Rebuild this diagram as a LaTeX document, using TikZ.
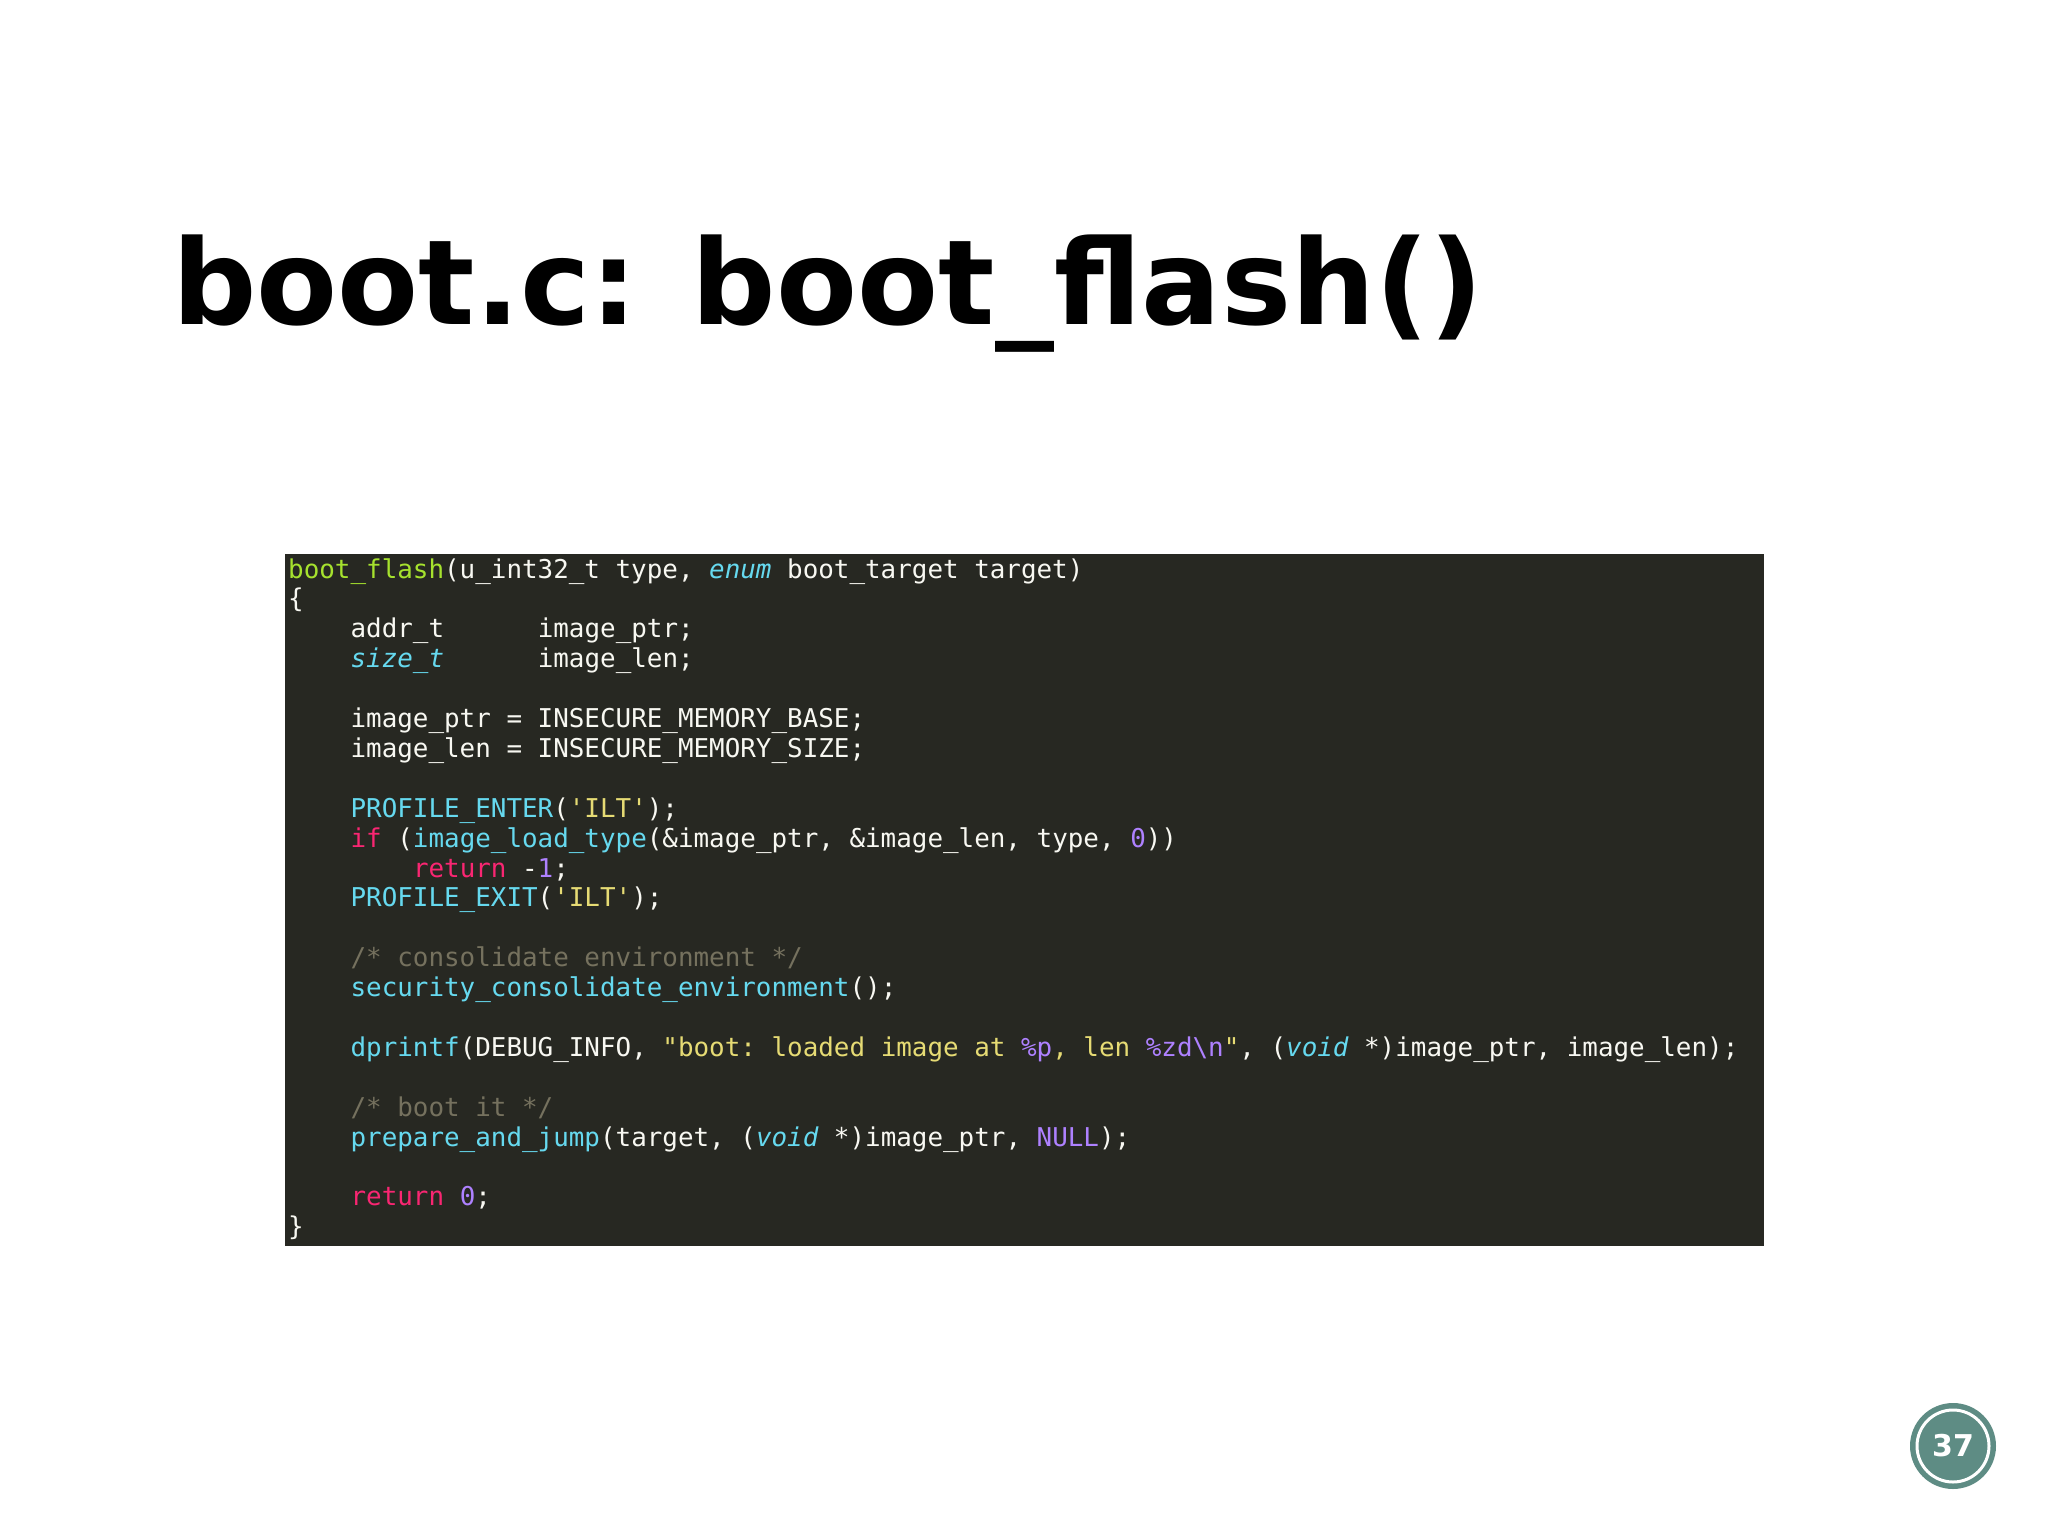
\documentclass[tikz,border=0pt]{standalone}
\usepackage{fontspec}
\setmainfont{DejaVu Sans}
\setmonofont{DejaVu Sans Mono}
\definecolor{cbg}{HTML}{272822}
\definecolor{cfg}{HTML}{F8F8F2}
\definecolor{cgr}{HTML}{A6E22E}
\definecolor{cbl}{HTML}{66D9EF}
\definecolor{cpk}{HTML}{F92672}
\definecolor{cpu}{HTML}{AE81FF}
\definecolor{cye}{HTML}{E6DB74}
\definecolor{ccm}{HTML}{75715E}
\definecolor{cbadge}{HTML}{5E8C84}
\newcommand\cG[1]{\textcolor{cgr}{#1}}
\newcommand\cB[1]{\textcolor{cbl}{#1}}
\newcommand\cT[1]{\textcolor{cbl}{\itshape #1}}
\newcommand\cP[1]{\textcolor{cpk}{#1}}
\newcommand\cU[1]{\textcolor{cpu}{#1}}
\newcommand\cY[1]{\textcolor{cye}{#1}}
\newcommand\cC[1]{\textcolor{ccm}{#1}}
\newcommand\sq{\char39\relax}
\newcommand\dq{\char34\relax}
\begin{document}
\begin{tikzpicture}[x=1pt,y=-1pt,
  codeln/.style={anchor=base west,inner sep=0pt,text=cfg,font=\ttfamily\fontsize{25.9}{30}\selectfont}]
\useasboundingbox (0,0) rectangle (2048,1536);
\fill[white] (0,0) rectangle (2048,1536);
\node[anchor=base west,inner sep=0pt,font=\bfseries\fontsize{118}{120}\selectfont] (title) at (172,324) {boot.c: boot\_flash()};
\fill[cbg] (285,554) rectangle (1764,1246);
\def\cw{15.6}
\def\lh{29.9}
\def\ya{578}
\node[codeln] (l0) at (288,\ya) {\cG{boot\_flash}(u\_int32\_t type, \cT{enum} boot\_target target)};
\node[codeln] (l1) at (288,\ya+1*\lh) {\{};
\node[codeln] (l2a) at (288+4*\cw,\ya+2*\lh) {addr\_t};
\node[codeln] (l2b) at (288+16*\cw,\ya+2*\lh) {image\_ptr;};
\node[codeln] (l3a) at (288+4*\cw,\ya+3*\lh) {\cT{size\_t}};
\node[codeln] (l3b) at (288+16*\cw,\ya+3*\lh) {image\_len;};
\node[codeln] (l5) at (288+4*\cw,\ya+5*\lh) {image\_ptr = INSECURE\_MEMORY\_BASE;};
\node[codeln] (l6) at (288+4*\cw,\ya+6*\lh) {image\_len = INSECURE\_MEMORY\_SIZE;};
\node[codeln] (l8) at (288+4*\cw,\ya+8*\lh) {\cB{PROFILE\_ENTER}(\cY{\sq ILT\sq});};
\node[codeln] (l9) at (288+4*\cw,\ya+9*\lh) {\cP{if} (\cB{image\_load\_type}(\&image\_ptr, \&image\_len, type, \cU{0}))};
\node[codeln] (l10) at (288+8*\cw,\ya+10*\lh) {\cP{return} -\cU{1};};
\node[codeln] (l11) at (288+4*\cw,\ya+11*\lh) {\cB{PROFILE\_EXIT}(\cY{\sq ILT\sq});};
\node[codeln] (l13) at (288+4*\cw,\ya+13*\lh) {\cC{/* consolidate environment */}};
\node[codeln] (l14) at (288+4*\cw,\ya+14*\lh) {\cB{security\_consolidate\_environment}();};
\node[codeln] (l16) at (288+4*\cw,\ya+16*\lh) {\cB{dprintf}(DEBUG\_INFO, \cY{\dq boot: loaded image at }\cU{\%p}\cY{, len }\cU{\%zd\textbackslash n}\cY{\dq}, (\cT{void} *)image\_ptr, image\_len);};
\node[codeln] (l18) at (288+4*\cw,\ya+18*\lh) {\cC{/* boot it */}};
\node[codeln] (l19) at (288+4*\cw,\ya+19*\lh) {\cB{prepare\_and\_jump}(target, (\cT{void} *)image\_ptr, \cU{NULL});};
\node[codeln] (l21) at (288+4*\cw,\ya+21*\lh) {\cP{return} \cU{0};};
\node[codeln] (l22) at (288,\ya+22*\lh) {\}};
\node[circle,fill=cbadge,minimum size=86pt,inner sep=0pt] (badge) at (1953,1446) {};
\draw[white,line width=3pt] (badge.center) circle (36);
\node[text=white,font=\bfseries\fontsize{30}{30}\selectfont] (num) at (badge.center) {37};
\end{tikzpicture}
\end{document}
